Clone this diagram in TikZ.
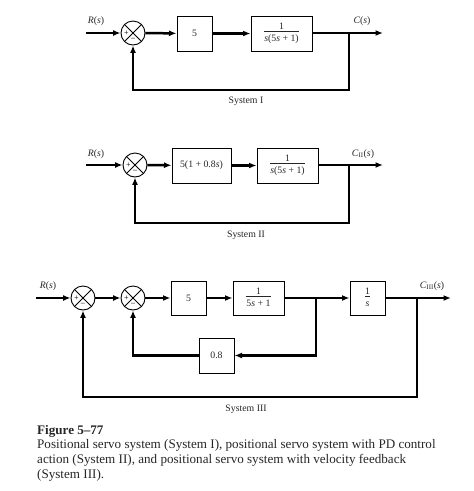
\documentclass[tikz,border=0pt]{standalone}
\usepackage{fontspec}
\setmainfont{Liberation Serif}
\usetikzlibrary{arrows.meta}
\newcommand\myfrac[2]{\begin{tabular}{@{}c@{}}#1\\[-1.5pt]\hline\rule{0pt}{10pt}#2\end{tabular}}
\newcommand\vs{\textit{s}}
\begin{document}
\begin{tikzpicture}[x=1pt,y=-1pt,
  txt/.style={text=black!85, font=\fontsize{9.8}{11}\selectfont},
  blk/.style={draw, line width=1pt, inner sep=0pt, txt},
  sumj/.style={draw, circle, line width=0.9pt, minimum size=24pt, inner sep=0pt,
    path picture={\draw[line width=0.9pt]
      (path picture bounding box.north west)--(path picture bounding box.south east)
      (path picture bounding box.north east)--(path picture bounding box.south west);}},
  sgn/.style={inner sep=0pt, text=black!80, font=\fontsize{8}{8}\selectfont\bfseries},
  wire/.style={line width=2.5pt, line join=miter, -{Latex[length=7.5pt,width=6pt]}},
  lbl/.style={txt, inner sep=0pt},
  captxt/.style={inner sep=0pt, anchor=base west, text=black!85, font=\fontsize{13.1}{15}\selectfont}
]
\useasboundingbox (0,0) rectangle (474,491);

% ---------- System I ----------
\coordinate (in1) at (86,33);
\node[sumj] (s1) at (133,33) {};
\node[sgn] (s1p) at ([xshift=-6.5pt]s1.center) {+};
\node[sgn] (s1m) at ([yshift=-6.5pt]s1.center) {–};
\node[blk, minimum width=35pt, minimum height=35pt] (k1) at (194.5,33.5) {5};
\node[blk, minimum width=61pt, minimum height=35pt] (g1) at (281.5,33.5) {\myfrac{1}{\vs(5\vs\ + 1)}};
\coordinate (b1) at (349,33);
\coordinate (o1) at (383,33);
\coordinate (f1) at (349,90);
\draw[wire] (in1) -- (s1);
\draw[wire] (s1) -- (k1);
\draw[wire] (k1) -- (g1);
\draw[wire] (g1.east |- b1) -- (o1);
\draw[wire] (b1) -- (f1) -- (s1.south |- f1) -- (s1.south);
\node[lbl] (r1) at (96,21) {\textit{R}(\vs)};
\node[lbl] (c1) at (362,21) {\textit{C}(\vs)};
\node[lbl] (t1) at (246,101) {System I};

% ---------- System II ----------
\coordinate (in2) at (86,165);
\node[sumj] (s2) at (135,165) {};
\node[sgn] (s2p) at ([xshift=-6.5pt]s2.center) {+};
\node[sgn] (s2m) at ([yshift=-6.5pt]s2.center) {–};
\node[blk, minimum width=59pt, minimum height=35pt] (k2) at (201.5,165.5) {5(1 + 0.8\vs)};
\node[blk, minimum width=61pt, minimum height=35pt] (g2) at (287.5,165.5) {\myfrac{1}{\vs(5\vs\ + 1)}};
\coordinate (b2) at (349,165);
\coordinate (o2) at (383,165);
\coordinate (f2) at (349,223);
\draw[wire] (in2) -- (s2);
\draw[wire] (s2) -- (k2);
\draw[wire] (k2) -- (g2);
\draw[wire] (g2.east |- b2) -- (o2);
\draw[wire] (b2) -- (f2) -- (s2.south |- f2) -- (s2.south);
\node[lbl] (r2) at (96,154) {\textit{R}(\vs)};
\node[lbl] (c2) at (363,154) {\textit{C}\textsubscript{II}(\vs)};
\node[lbl] (t2) at (246,235) {System II};

% ---------- System III ----------
\coordinate (in3) at (36,298);
\node[sumj] (s3a) at (83,298) {};
\node[sgn] (s3ap) at ([xshift=-6.5pt]s3a.center) {+};
\node[sgn] (s3am) at ([yshift=-6.5pt]s3a.center) {–};
\node[sumj] (s3b) at (133,298) {};
\node[sgn] (s3bp) at ([xshift=-6.5pt]s3b.center) {+};
\node[sgn] (s3bm) at ([yshift=-6.5pt]s3b.center) {–};
\node[blk, minimum width=35pt, minimum height=34pt] (k3) at (188.5,298) {5};
\node[blk, minimum width=51pt, minimum height=34pt] (g3) at (258.5,298) {\myfrac{1}{5\vs\ + 1}};
\node[blk, minimum width=35pt, minimum height=34pt] (h3) at (367.5,298) {\myfrac{1}{\vs}};
\node[blk, minimum width=35pt, minimum height=35pt] (v3) at (216.5,355.5) {0.8};
\coordinate (b3) at (316,298);
\coordinate (b4) at (417,298);
\coordinate (o3) at (451,298);
\coordinate (f3) at (417,397);
\draw[wire] (in3) -- (s3a);
\draw[wire] (s3a) -- (s3b);
\draw[wire] (s3b) -- (k3);
\draw[wire] (k3) -- (g3);
\draw[wire] (g3) -- (h3);
\draw[wire] (h3) -- (o3);
\draw[wire] (b3) |- (v3.east);
\draw[wire] (v3.west) -| (s3b.south);
\draw[wire] (b4) -- (f3) -- (s3a.south |- f3) -- (s3a.south);
\node[lbl] (r3) at (48,286) {\textit{R}(\vs)};
\node[lbl] (c3) at (432,286) {\textit{C}\textsubscript{III}(\vs)};
\node[lbl] (t3) at (246,409) {System III};

% ---------- caption ----------
\node[captxt, font=\fontsize{13.1}{15}\selectfont\bfseries] (cap1) at (37,434) {Figure 5–77};
\node[captxt] (cap2) at (37,448.5) {Positional servo system (System I), positional servo system with PD control};
\node[captxt] (cap3) at (37,463.5) {action (System II), and positional servo system with velocity feedback};
\node[captxt] (cap4) at (37,478.5) {(System III).};
\end{tikzpicture}
\end{document}
